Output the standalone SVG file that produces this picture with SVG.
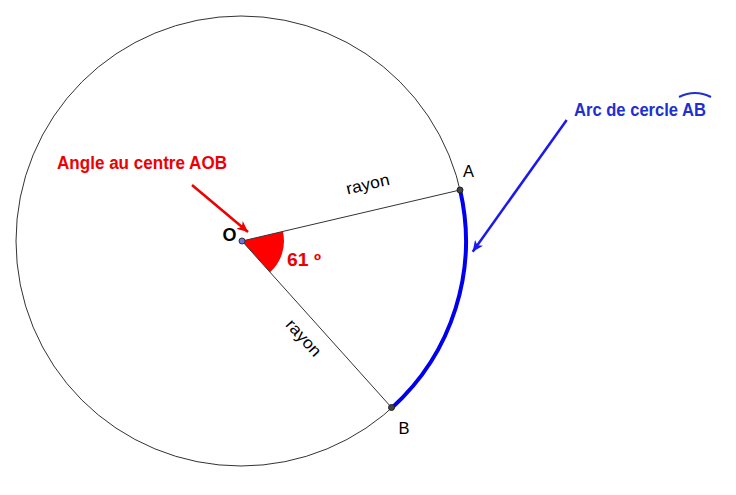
<svg xmlns="http://www.w3.org/2000/svg" width="736" height="495" viewBox="0 0 736 495">
<style>
.thin{fill:none;stroke:#333;stroke-width:1}
.pt{fill:#444;stroke:#222;stroke-width:1}
.lbl{font-family:"Liberation Sans",Arial,sans-serif;font-size:16.5px;fill:#000}
.bold{font-family:"Liberation Sans",Arial,sans-serif;font-weight:bold;font-size:18px}
</style>
<defs>
<marker id="ahRed" markerUnits="userSpaceOnUse" markerWidth="12" markerHeight="10" refX="11" refY="5" orient="auto">
<path d="M0,0 L11,5 L0,10 L3,5 Z" fill="#ee0000"/>
</marker>
<marker id="ahBlue" markerUnits="userSpaceOnUse" markerWidth="12" markerHeight="10" refX="11" refY="5" orient="auto">
<path d="M0,0 L11,5 L0,10 L3,5 Z" fill="#1a1aee"/>
</marker>
</defs>
<rect width="736" height="495" fill="#fff"/>
<g id="circle">
<circle class="thin" cx="241" cy="241" r="225"/>
</g>
<g id="sector">
<path d="M242 241 L282.9 231.5 A42 42 0 0 1 270.1 272.2 Z" fill="#ff0000"/>
</g>
<g id="connectors">
<line class="thin" x1="242" y1="241" x2="460" y2="190"/>
<line class="thin" x1="242" y1="241" x2="391.5" y2="407.5"/>
<path d="M460.1 190 A225 225 0 0 1 391.8 407.9" fill="none" stroke="#0000ee" stroke-width="4"/>
<line x1="192" y1="185" x2="248" y2="232" stroke="#ee0000" stroke-width="2.5" marker-end="url(#ahRed)"/>
<line x1="566.7" y1="120" x2="472.7" y2="251.7" stroke="#1a1aee" stroke-width="2.5" marker-end="url(#ahBlue)"/>
</g>
<g id="pointO">
<circle cx="242" cy="241" r="3" fill="#7070e0" stroke="#333" stroke-width="1"/>
<text class="bold" x="222.5" y="240.5" fill="#000">O</text>
</g>
<g id="pointA">
<circle class="pt" cx="460" cy="190" r="3"/>
<text class="lbl" x="463" y="176.5">A</text>
</g>
<g id="pointB">
<circle class="pt" cx="391.5" cy="407.5" r="3"/>
<text class="lbl" x="398.5" y="434">B</text>
</g>
<g id="labels">
<text class="lbl" text-anchor="middle" transform="translate(369,189.5) rotate(-13.1)" textLength="44" lengthAdjust="spacingAndGlyphs">rayon</text>
<text class="lbl" text-anchor="middle" transform="translate(299.5,341.5) rotate(47.9)" textLength="44" lengthAdjust="spacingAndGlyphs">rayon</text>
<text class="bold" x="57" y="169" fill="#ee0000" textLength="170" lengthAdjust="spacingAndGlyphs">Angle au centre AOB</text>
<text class="bold" x="287" y="266" fill="#ee0000" textLength="34" lengthAdjust="spacingAndGlyphs">61 º</text>
<text class="bold" x="574" y="116" fill="#1f2fd0" textLength="132" lengthAdjust="spacingAndGlyphs">Arc de cercle AB</text>
<path d="M679 97 Q695 89 711 97" fill="none" stroke="#1f2fd0" stroke-width="2"/>
</g>
</svg>
